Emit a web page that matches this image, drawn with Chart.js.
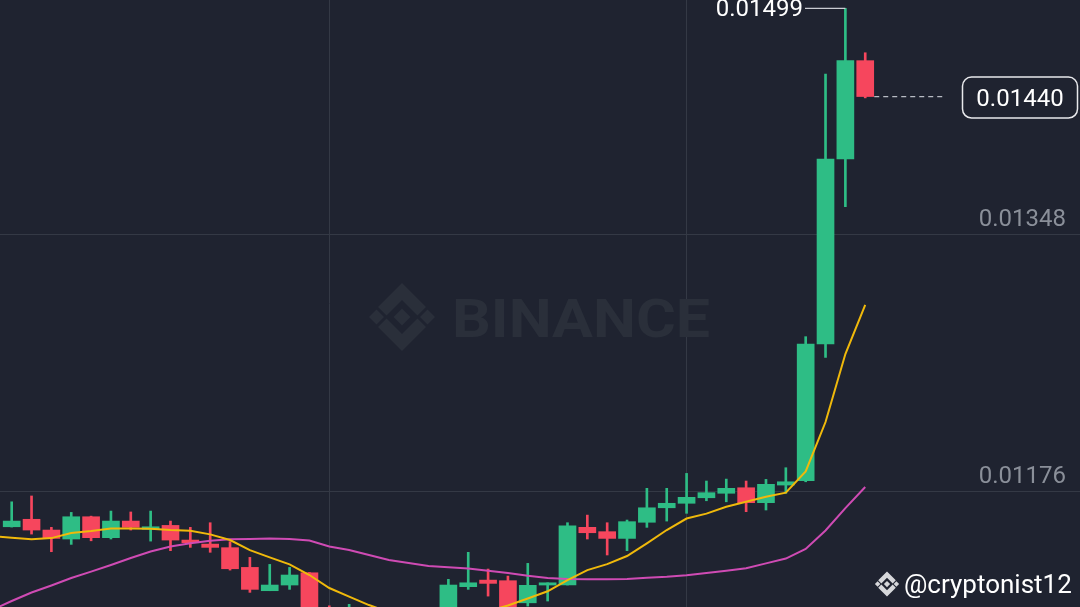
<!DOCTYPE html>
<html><head><meta charset="utf-8">
<script src="https://cdn.jsdelivr.net/npm/chart.js@4.4.1/dist/chart.umd.min.js"></script>
<style>html,body{margin:0;padding:0;background:#1f2330;overflow:hidden}#wrap{width:1080px;height:607px;position:relative}canvas{display:block}</style>
</head><body><div id="wrap"><canvas id="c" width="1080" height="607" style="width:1080px;height:607px"></canvas></div>
<script>
// ---- data ----
const slots  = [0,1,2,3,4,5,6,7,8,9,10,11,12,13,14,15,16,17,18,19,20,21,22,23,24,25,26,27,28,29,30,31,32,33,34,35,36,37,38,39,40,41,42,43];
const opens  = [0.011521,0.011571,0.011499,0.011439,0.011588,0.011448,0.011559,0.011504,0.011530,0.011432,0.011405,0.011381,0.011249,0.011093,0.011131,0.011213,0.010975,0.010920,0.010970,0.010870,0.010830,0.010900,0.010950,0.011120,0.011164,0.011160,0.011012,0.011131,0.011131,0.011517,0.011488,0.011443,0.011551,0.011648,0.011678,0.011715,0.011745,0.011782,0.011682,0.011800,0.011829,0.012744,0.013982,0.014640];
const highs  = [0.011688,0.011727,0.011517,0.011617,0.011592,0.011626,0.011620,0.011626,0.011559,0.011517,0.011548,0.011421,0.011316,0.011269,0.011249,0.011215,0.010992,0.011002,0.010980,0.010930,0.010950,0.010970,0.011169,0.011350,0.011238,0.011191,0.011276,0.011146,0.011548,0.011599,0.011548,0.011566,0.011778,0.011778,0.011878,0.011827,0.011840,0.011827,0.011838,0.011916,0.012793,0.014551,0.014990,0.014693];
const lows   = [0.011519,0.011472,0.011354,0.011403,0.011427,0.011439,0.011499,0.011425,0.011361,0.011383,0.011350,0.011231,0.011082,0.011093,0.011102,0.010870,0.010900,0.010905,0.010840,0.010800,0.010810,0.010860,0.010920,0.011102,0.011057,0.010930,0.010990,0.011024,0.011131,0.011439,0.011332,0.011361,0.011517,0.011559,0.011611,0.011695,0.011688,0.011622,0.011633,0.011745,0.011822,0.012655,0.013663,0.014391];
const closes = [0.011559,0.011499,0.011443,0.011588,0.011448,0.011559,0.011517,0.011521,0.011432,0.011414,0.011383,0.011240,0.011102,0.011131,0.011198,0.010900,0.010930,0.010970,0.010870,0.010830,0.010900,0.010940,0.011131,0.011146,0.011142,0.010960,0.011129,0.011146,0.011528,0.011481,0.011443,0.011555,0.011648,0.011678,0.011718,0.011749,0.011778,0.011682,0.011805,0.011822,0.012744,0.013982,0.014640,0.014400];
const maSlots = [-1,0,1,2,3,4,5,6,7,8,9,10,11,12,13,14,15,16,17,18,19,20,21,22,23,24,25,26,27,28,29,30,31,32,33,34,35,36,37,38,39,40,41,42,43];
const ma7  = [0.011459,0.011447,0.011437,0.011445,0.011479,0.011492,0.011510,0.011510,0.011508,0.011499,0.011494,0.011470,0.011432,0.011365,0.011316,0.011269,0.011198,0.011111,0.011053,0.010997,0.010950,0.010910,0.010897,0.010903,0.010923,0.010957,0.010994,0.011041,0.011089,0.011164,0.011231,0.011271,0.011325,0.011410,0.011499,0.011576,0.011609,0.011655,0.011688,0.011722,0.011749,0.011891,0.012222,0.012677,0.013005];
const ma25 = [0.010964,0.011024,0.011081,0.011128,0.011178,0.011221,0.011265,0.011312,0.011355,0.011389,0.011410,0.011427,0.011437,0.011439,0.011443,0.011439,0.011429,0.011389,0.011365,0.011332,0.011298,0.011278,0.011258,0.011250,0.011241,0.011226,0.011211,0.011193,0.011178,0.011171,0.011169,0.011169,0.011171,0.011179,0.011186,0.011197,0.011211,0.011227,0.011243,0.011276,0.011308,0.011373,0.011496,0.011646,0.011787];
const yTickValues = [0.01176, 0.01348];
const xGridSlots = [16, 34];
const watermarkText = 'BINANCE';
const signature = '@cryptonist12';

// ---- styles ----
const BG = '#1f2330', GREEN = '#2ebd85', RED = '#f6465d', GRID = '#343945';
const FONT = 'Roboto, "Noto Sans", sans-serif';

function drawLogo(ctx, cx, cy, s, color) {
  const polys = [
    [[0,-0.25],[0.25,0],[0,0.25],[-0.25,0]],
    [[0.75,-0.22],[0.97,0],[0.75,0.22],[0.53,0]],
    [[-0.75,-0.22],[-0.53,0],[-0.75,0.22],[-0.97,0]],
    [[0,-1],[0.705,-0.295],[0.455,-0.045],[0,-0.5],[-0.455,-0.045],[-0.705,-0.295]],
    [[0,1],[0.705,0.295],[0.455,0.045],[0,0.5],[-0.455,0.045],[-0.705,0.295]]
  ];
  ctx.save(); ctx.fillStyle = color;
  polys.forEach(p => { ctx.beginPath(); p.forEach((q,i)=>{ const X=cx+q[0]*s, Y=cy+q[1]*s; i?ctx.lineTo(X,Y):ctx.moveTo(X,Y);}); ctx.closePath(); ctx.fill(); });
  ctx.restore();
}

const bgPlugin = {
  id: 'bg',
  beforeDraw(chart) {
    const ctx = chart.ctx; ctx.save(); ctx.fillStyle = BG; ctx.fillRect(0,0,chart.width,chart.height); ctx.restore();
  },
  beforeDatasetsDraw(chart) {
    const ctx = chart.ctx;
    drawLogo(ctx, 402, 317, 34, '#2a2f3a');
    ctx.save();
    ctx.font = 'bold 53px ' + FONT;
    const w = ctx.measureText(watermarkText).width;
    ctx.translate(452, 337); ctx.scale(258 / w, 1);
    ctx.fillStyle = '#2a2f3a'; ctx.textBaseline = 'alphabetic'; ctx.textAlign = 'left';
    ctx.fillText(watermarkText, 0, 0);
    ctx.restore();
    // y tick labels
    const y = chart.scales.y;
    ctx.save();
    ctx.font = '24px ' + FONT; ctx.fillStyle = '#8a8f99'; ctx.textAlign = 'right'; ctx.textBaseline = 'middle';
    y.ticks.forEach(t => ctx.fillText(t.value.toFixed(5), 1066, y.getPixelForValue(t.value) - 14));
    ctx.restore();
  },
  afterDraw(chart) {
    const ctx = chart.ctx, xs = chart.scales.x, ys = chart.scales.y;
    // highest high label
    let hi = 0; highs.forEach((h,i)=>{ if (h > highs[hi]) hi = i; });
    const hx = xs.getPixelForValue(slots[hi]), hy = ys.getPixelForValue(highs[hi]);
    ctx.save();
    ctx.strokeStyle = '#c9ccd2'; ctx.lineWidth = 1.2;
    ctx.beginPath(); ctx.moveTo(805, hy); ctx.lineTo(hx, hy); ctx.stroke();
    ctx.font = '24px ' + FONT; ctx.fillStyle = '#ffffff'; ctx.textAlign = 'right'; ctx.textBaseline = 'middle';
    ctx.fillText(highs[hi].toFixed(5), 803, hy + 2);
    // last price line + box
    const last = closes[closes.length - 1];
    const lx = xs.getPixelForValue(slots[slots.length - 1]);
    const ly = ys.getPixelForValue(last);
    ctx.setLineDash([5,4]); ctx.strokeStyle = '#b8bcc4'; ctx.lineWidth = 1.2;
    ctx.beginPath(); ctx.moveTo(lx + 9, ly); ctx.lineTo(946, ly); ctx.stroke();
    ctx.setLineDash([]);
    const bx = 962.5, bw = 115, bh = 41, by = ly - bh/2 + 1;
    ctx.strokeStyle = '#e8e9ec'; ctx.lineWidth = 1.5; ctx.fillStyle = BG;
    ctx.beginPath(); ctx.roundRect(bx, by, bw, bh, 9); ctx.fill(); ctx.stroke();
    ctx.fillStyle = '#ffffff'; ctx.textAlign = 'center';
    ctx.fillText(last.toFixed(5), bx + bw/2, ly + 3);
    // signature
    drawLogo(ctx, 887, 584, 12.5, '#d6d7da');
    ctx.font = '26px ' + FONT; ctx.textAlign = 'left'; ctx.textBaseline = 'alphabetic'; ctx.fillStyle = '#ffffff';
    ctx.fillText(signature, 904, 593);
    ctx.restore();
  }
};

const bodyColor = c => closes[c.dataIndex] >= opens[c.dataIndex] ? GREEN : RED;

new Chart(document.getElementById('c'), {
  type: 'bar',
  data: {
    datasets: [
      { type: 'line', label: 'MA7', data: maSlots.map((s,i)=>({x:s, y:ma7[i]})), borderColor: '#f0b90b', borderWidth: 2, pointRadius: 0, tension: 0, order: 0 },
      { type: 'line', label: 'MA25', data: maSlots.map((s,i)=>({x:s, y:ma25[i]})), borderColor: '#cf4bb4', borderWidth: 2, pointRadius: 0, tension: 0, order: 0 },
      { label: 'wick', data: slots.map((s,i)=>({x:s, y:[lows[i], highs[i]]})), backgroundColor: bodyColor, barThickness: 2, grouped: false, order: 2 },
      { label: 'body', data: slots.map((s,i)=>({x:s, y:[opens[i], closes[i]]})), backgroundColor: bodyColor, barThickness: 17, minBarLength: 2, grouped: false, order: 1 }
    ]
  },
  options: {
    responsive: false, maintainAspectRatio: false, animation: false, events: [], devicePixelRatio: 1,
    layout: { padding: 0 },
    plugins: { legend: { display: false }, tooltip: { enabled: false } },
    scales: {
      x: { type: 'linear', min: -0.589, max: 53.82, offset: false,
           afterBuildTicks: s => { s.ticks = xGridSlots.map(v=>({value:v})); },
           ticks: { display: false }, grid: { color: GRID, drawTicks: false, lineWidth: 1, offset: false }, border: { display: false } },
      y: { position: 'right', min: 0.010984, max: 0.015046,
           afterBuildTicks: s => { s.ticks = yTickValues.map(v=>({value:v})); },
           ticks: { display: false }, grid: { color: GRID, drawTicks: false, lineWidth: 1 }, border: { display: false } }
    }
  },
  plugins: [bgPlugin]
});
</script>
</body></html>
